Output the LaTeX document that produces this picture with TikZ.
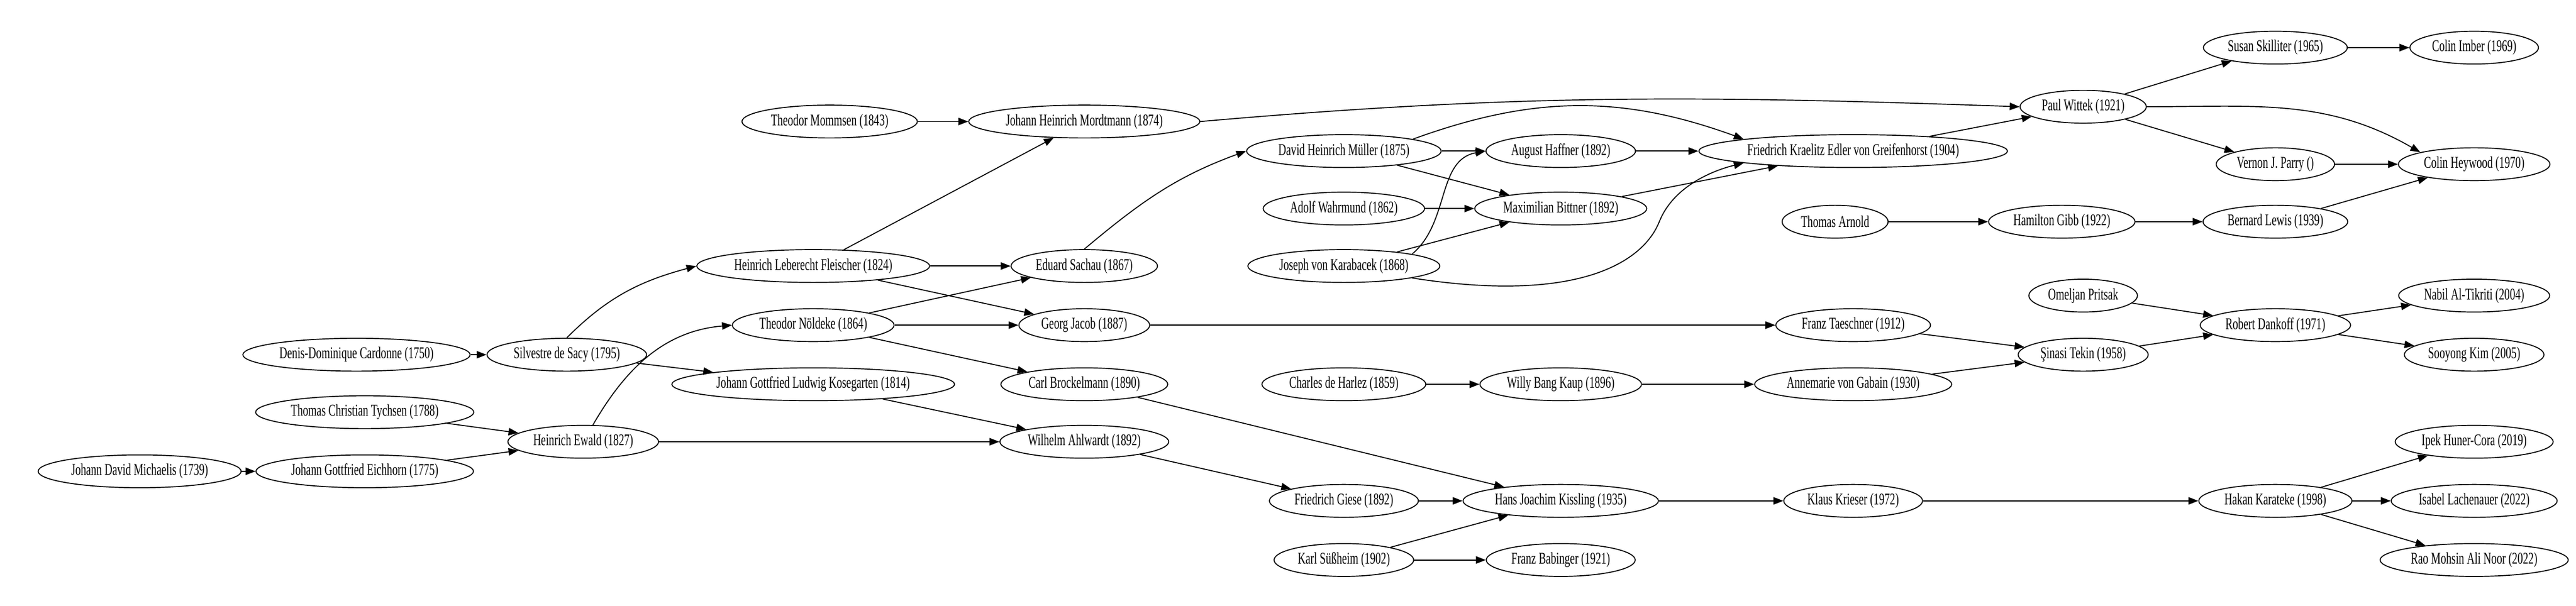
\documentclass[tikz,border=0pt]{standalone}
\usepackage{fontspec}
\setmainfont{Liberation Serif}[FakeStretch=0.66]
\usetikzlibrary{shapes.geometric,arrows.meta}
\begin{document}
\begin{tikzpicture}[x=1pt,y=-1pt,
  n/.style={ellipse,draw,line width=0.6pt,inner xsep=2pt,inner ysep=0pt,minimum height=20pt,font=\fontsize{10}{11}\selectfont},
  e/.style={draw,line width=0.6pt,-{Triangle[length=6pt,width=4.5pt]}}]
\useasboundingbox (0,0) rectangle (1568,369);
\node[n] (mich) at (85,287) {Johann David Michaelis (1739)};
\node[n] (eich) at (222,287) {Johann Gottfried Eichhorn (1775)};
\node[n] (tych) at (222,251) {Thomas Christian Tychsen (1788)};
\node[n] (ewald) at (355,269) {Heinrich Ewald (1827)};
\node[n] (card) at (217,216) {Denis-Dominique Cardonne (1750)};
\node[n] (sacy) at (345,216) {Silvestre de Sacy (1795)};
\node[n] (flei) at (495,162) {Heinrich Leberecht Fleischer (1824)};
\node[n] (nold) at (495,198) {Theodor Nöldeke (1864)};
\node[n] (kose) at (495,234) {Johann Gottfried Ludwig Kosegarten (1814)};
\node[n] (momm) at (505,74) {Theodor Mommsen (1843)};
\node[n] (mord) at (660,74) {Johann Heinrich Mordtmann (1874)};
\node[n] (sach) at (660,162) {Eduard Sachau (1867)};
\node[n] (jac) at (660,198) {Georg Jacob (1887)};
\node[n] (broc) at (660,234) {Carl Brockelmann (1890)};
\node[n] (ahl) at (660,269) {Wilhelm Ahlwardt (1892)};
\node[n] (mull) at (818,92) {David Heinrich Müller (1875)};
\node[n] (wahr) at (818,127) {Adolf Wahrmund (1862)};
\node[n] (kara) at (818,162) {Joseph von Karabacek (1868)};
\node[n] (harl) at (818,234) {Charles de Harlez (1859)};
\node[n] (gies) at (818,305) {Friedrich Giese (1892)};
\node[n] (suss) at (818,341) {Karl Süßheim (1902)};
\node[n] (haff) at (950,92) {August Haffner (1892)};
\node[n] (bitt) at (950,127) {Maximilian Bittner (1892)};
\node[n] (bang) at (950,234) {Willy Bang Kaup (1896)};
\node[n] (kiss) at (950,305) {Hans Joachim Kissling (1935)};
\node[n] (babi) at (950,341) {Franz Babinger (1921)};
\node[n] (krae) at (1128,92) {Friedrich Kraelitz Edler von Greifenhorst (1904)};
\node[n] (taes) at (1128,198) {Franz Taeschner (1912)};
\node[n] (gaba) at (1128,234) {Annemarie von Gabain (1930)};
\node[n] (krie) at (1128,305) {Klaus Krieser (1972)};
\node[n] (arno) at (1117,135) {Thomas Arnold};
\node[n] (gibb) at (1255,135) {Hamilton Gibb (1922)};
\node[n] (witt) at (1268,65) {Paul Wittek (1921)};
\node[n] (prit) at (1268,180) {Omeljan Pritsak};
\node[n] (tek) at (1268,216) {Şinasi Tekin (1958)};
\node[n] (skil) at (1385,29) {Susan Skilliter (1965)};
\node[n] (parr) at (1385,100) {Vernon J. Parry ()};
\node[n] (lewi) at (1385,135) {Bernard Lewis (1939)};
\node[n] (dank) at (1385,198) {Robert Dankoff (1971)};
\node[n] (kart) at (1385,305) {Hakan Karateke (1998)};
\node[n] (imb) at (1506,29) {Colin Imber (1969)};
\node[n] (heyw) at (1506,100) {Colin Heywood (1970)};
\node[n] (nabi) at (1506,180) {Nabil Al-Tikriti (2004)};
\node[n] (kim) at (1506,216) {Sooyong Kim (2005)};
\node[n] (ipek) at (1506,269) {Ipek Huner-Cora (2019)};
\node[n] (isab) at (1506,305) {Isabel Lachenauer (2022)};
\node[n] (rao) at (1506,341) {Rao Mohsin Ali Noor (2022)};
\path[e] (mich) -- (eich);
\path[e] (eich) -- (ewald);
\path[e] (tych) -- (ewald);
\path[e] (ewald.60) to[out=60,in=185] (nold.west);
\path[e] (ewald) -- (ahl);
\path[e] (card) -- (sacy);
\path[e] (sacy.north) to[out=45,in=195] (flei.west);
\path[e] (sacy) -- (kose);
\path[e] (flei) -- (mord);
\path[e] (flei) -- (sach);
\path[e] (flei) -- (jac);
\path[e] (nold) -- (sach);
\path[e] (nold) -- (jac);
\path[e] (nold) -- (broc);
\path[e] (kose) -- (ahl);
\path[e] (momm) -- (mord);
\path[e] (mord.east) to[out=5,in=178] (witt.west);
\path[e] (sach.north) to[out=40,in=200] (mull.west);
\path[e] (jac) -- (taes);
\path[e] (broc) -- (kiss);
\path[e] (ahl) -- (gies);
\path[e] (mull) -- (haff);
\path[e] (mull) -- (bitt);
\path[e] (mull.north east) to[out=20,in=160] (krae.north west);
\path[e] (wahr) -- (bitt);
\path[e] (kara.north east) to[out=40,in=190] (haff.west);
\path[e] (kara) -- (bitt);
\path[e] (kara.south east) .. controls (960,185) and (1000,160) .. (1010,135) .. controls (1020,110) and (1050,102) .. (krae.south west);
\path[e] (haff) -- (krae);
\path[e] (bitt) -- (krae);
\path[e] (harl) -- (bang);
\path[e] (bang) -- (gaba);
\path[e] (gaba) -- (tek);
\path[e] (gies) -- (kiss);
\path[e] (suss) -- (kiss);
\path[e] (suss) -- (babi);
\path[e] (kiss) -- (krie);
\path[e] (krie) -- (kart);
\path[e] (krae) -- (witt);
\path[e] (taes) -- (tek);
\path[e] (arno) -- (gibb);
\path[e] (gibb) -- (lewi);
\path[e] (lewi) -- (heyw);
\path[e] (witt) -- (skil);
\path[e] (witt) -- (parr);
\path[e] (witt.east) to[out=0,in=150] (heyw.north west);
\path[e] (skil) -- (imb);
\path[e] (parr) -- (heyw);
\path[e] (prit) -- (dank);
\path[e] (tek) -- (dank);
\path[e] (dank) -- (nabi);
\path[e] (dank) -- (kim);
\path[e] (kart) -- (ipek);
\path[e] (kart) -- (isab);
\path[e] (kart) -- (rao);
\end{tikzpicture}
\end{document}
